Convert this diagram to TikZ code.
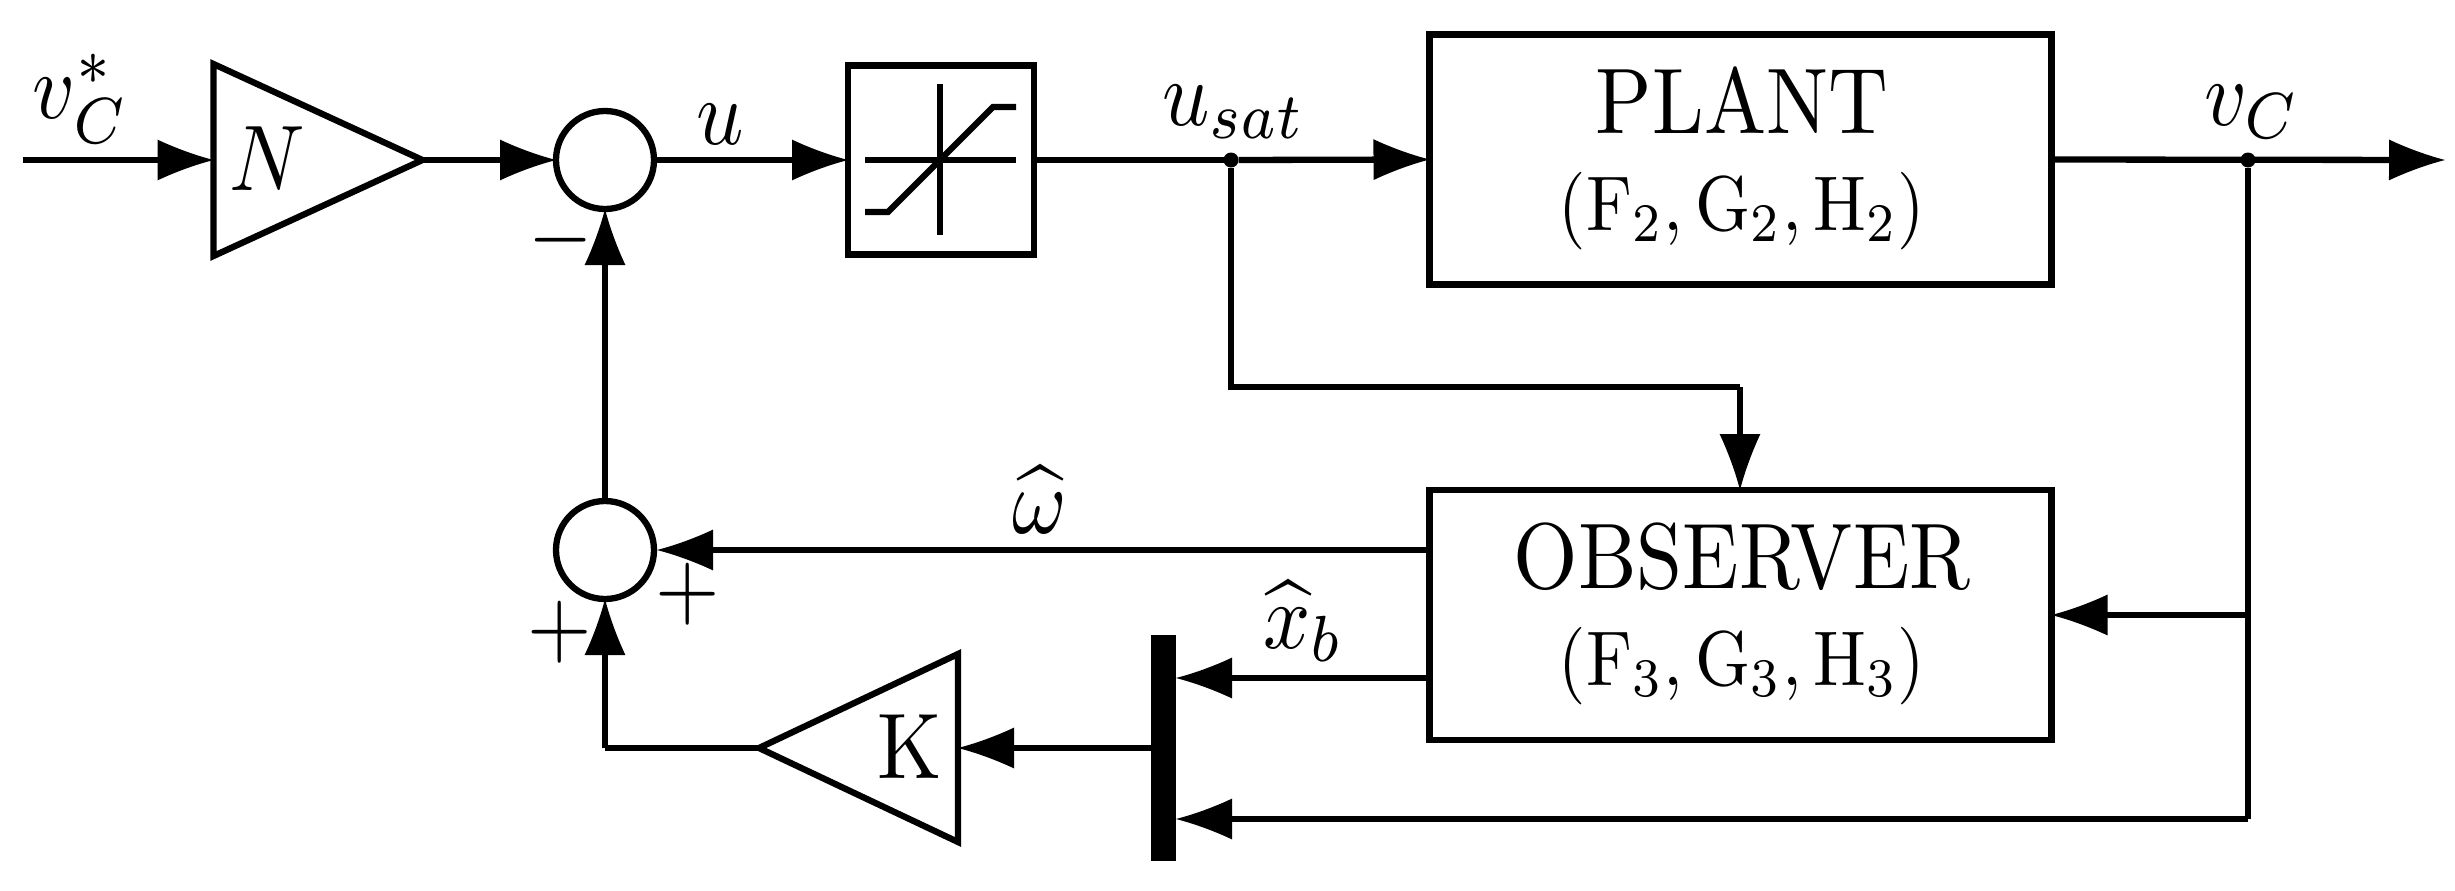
\documentclass[tikz,border=0pt]{standalone}
\usepackage{amsmath}
\usetikzlibrary{shapes.geometric,arrows.meta,calc}
\makeatletter
\pgfdeclarearrow{
  name=CTip,
  setup code={
    \pgfarrowssettipend{0pt}
    \pgfarrowssetbackend{-14pt}
    \pgfarrowssetlineend{-13pt}
    \pgfarrowssetvisualbackend{-13pt}
    \pgfarrowshullpoint{0pt}{0pt}
    \pgfarrowshullpoint{-14pt}{5.1pt}
    \pgfarrowshullpoint{-14pt}{-5.1pt}
  },
  drawing code={
    \pgfpathmoveto{\pgfpoint{0pt}{0pt}}
    \pgfpathcurveto{\pgfpoint{-5pt}{1.3pt}}{\pgfpoint{-10pt}{3.2pt}}{\pgfpoint{-14pt}{5.1pt}}
    \pgfpathlineto{\pgfpoint{-14pt}{-5.1pt}}
    \pgfpathcurveto{\pgfpoint{-10pt}{-3.2pt}}{\pgfpoint{-5pt}{-1.3pt}}{\pgfpoint{0pt}{0pt}}
    \pgfpathclose
    \pgfusepathqfill
  }
}
\makeatother
\def\px{0.25pt}
\tikzset{
  wire/.style={line width=6.3*\px},
  flow/.style={wire,-{CTip}},
  box/.style={draw,line width=6.3*\px,rectangle,inner sep=0pt,outer sep=0pt},
  sum/.style={draw,line width=6.3*\px,circle,inner sep=0pt,outer sep=0pt,minimum size=98*\px},
  amp/.style={draw,line width=6.3*\px,isosceles triangle,isosceles triangle stretches,inner sep=0pt,outer sep=0pt},
  lab/.style={xscale=2.07,yscale=2.33,inner sep=0pt,outer sep=0pt},
  tup/.style={xscale=1.76,yscale=1.94,inner sep=0pt,outer sep=0pt},
  dot/.style={fill,circle,inner sep=0pt,outer sep=0pt,minimum size=15*\px},
}
\begin{document}
\begin{tikzpicture}[x=0.25pt,y=-0.25pt]
\useasboundingbox (0,0) rectangle (2455,890);
% blocks
\node[amp,minimum width=192*\px,minimum height=209*\px,anchor=lower side] (N) at (213.5,160) {};
\node[sum] (s1) at (605,160) {};
\node[box,minimum width=186*\px,minimum height=189*\px] (sat) at (941,160) {};
\node[box,minimum width=622*\px,minimum height=250*\px] (plant) at (1740.5,159.5) {};
\node[box,minimum width=622*\px,minimum height=250*\px] (obs) at (1740.5,615) {};
\node[sum] (s2) at (605,550) {};
\node[amp,shape border rotate=180,minimum width=188*\px,minimum height=199*\px,anchor=lower side] (K) at (958,748) {};
\node[fill,rectangle,inner sep=0pt,outer sep=0pt,minimum width=25*\px,minimum height=226*\px] (bar) at (1163.5,748) {};
% junctions and free ends
\node[dot] (j1) at (1231,160) {};
\node[dot] (j2) at (2248,160) {};
\coordinate (in) at (23,160);
\coordinate (out) at (2445,160);
\coordinate (obsU) at (1740,387);
\coordinate (turn1) at (1231,387);
\coordinate (obsW) at (1430,550);
\coordinate (s2in) at (657,550);
\coordinate (xbOut) at (1430,678);
\coordinate (barA) at (1176,678);
\coordinate (barB) at (1176,819);
\coordinate (fbB) at (2248,819);
\coordinate (fbA) at (2248,615);
\coordinate (barK) at (1151,748);
% saturation symbol
\node[inner sep=0pt] (satc) at (940,160) {};
\draw[wire] ($(satc)+(-75,0)$) -- ($(satc)+(76,0)$);
\draw[wire] ($(satc)+(0,-76)$) -- ($(satc)+(0,75)$);
\draw[wire] (865,212) -- (888,212) -- (993,107) -- (1016,107);
% connectors
\draw[flow] (in) -- (N.lower side);
\draw[flow] (N.apex) -- (s1.west);
\draw[flow] (s1.east) -- (sat.west);
\draw[wire] (sat.east) -- (j1);
\draw[flow] (j1) -- (plant.west);
\draw[flow] (plant.east) -- (out);
\draw[wire] (j1) -- (turn1) -- (obsU);
\draw[flow] (obsU) -- (obs.north -| obsU);
\draw[wire] (j2) -- (fbB);
\draw[flow] (fbA) -- (obs.east |- fbA);
\draw[flow] (fbB) -- (barB);
\draw[flow] (obsW) -- (s2in);
\draw[flow] (xbOut) -- (barA);
\draw[flow] (barK) -- (K.lower side);
\draw[wire] (K.apex) -- (s2.south |- K.apex);
\draw[flow] (s2.south |- K.apex) -- (s2.south);
\draw[flow] (s2.north) -- (s1.south);
% labels
\node[lab,anchor=base west] (l1) at (33,118) {$v_C^*$};
\node[lab,anchor=base] (l2) at (267,190) {$N$};
\node[lab,anchor=base] (l3) at (720,144) {$u$};
\node[lab,anchor=base west] (l4) at (1162,125) {$u_{sat}$};
\node[lab,anchor=base west] (l5) at (2204,125) {$v_C$};
\node[lab,anchor=base] (l6) at (1742,133) {PLANT};
\node[tup,anchor=base] (l7) at (1742,230) {$(\mathrm{F}_2,\mathrm{G}_2,\mathrm{H}_2)$};
\node[lab,anchor=base] (l8) at (1742,588) {OBSERVER};
\node[tup,anchor=base] (l9) at (1742,685) {$(\mathrm{F}_3,\mathrm{G}_3,\mathrm{H}_3)$};
\node[lab,anchor=base] (l10) at (1040,533) {$\widehat{\omega}$};
\node[lab,anchor=base west] (l11) at (1263,648) {$\widehat{x}_b$};
\node[lab,anchor=base] (l12) at (910,778) {K};
\node[lab] (m1) at (561,240) {$-$};
\node[lab] (p1) at (688,594) {$+$};
\node[lab] (p2) at (560,632) {$+$};
\end{tikzpicture}
\end{document}
